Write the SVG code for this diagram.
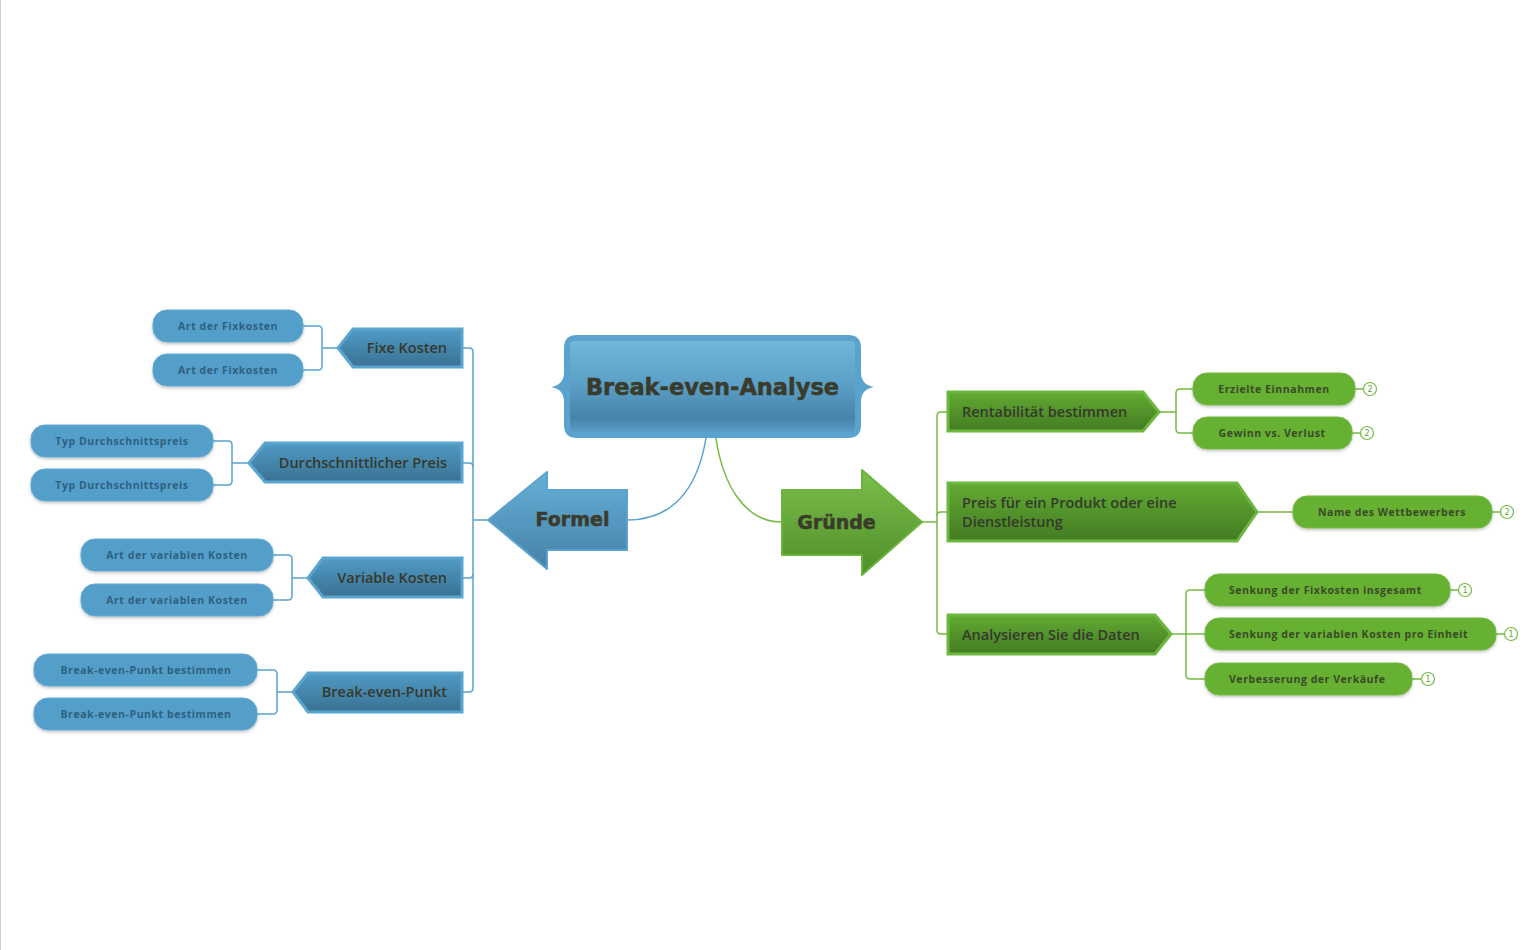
<svg xmlns="http://www.w3.org/2000/svg" width="1536" height="950" viewBox="0 0 1536 950">
<defs>
<linearGradient id="gCentral" x1="0" y1="0" x2="0" y2="1">
<stop offset="0" stop-color="#70b7d8"/><stop offset="0.5" stop-color="#5a9ec5"/><stop offset="0.85" stop-color="#4683aa"/><stop offset="1" stop-color="#5a9dc6"/>
</linearGradient>
<linearGradient id="gBlueArrow" x1="0" y1="0" x2="0" y2="1">
<stop offset="0" stop-color="#66b0d6"/><stop offset="1" stop-color="#4581a9"/>
</linearGradient>
<linearGradient id="gGreenArrow" x1="0" y1="0" x2="0" y2="1">
<stop offset="0" stop-color="#7cbf4c"/><stop offset="1" stop-color="#4e8f28"/>
</linearGradient>
<linearGradient id="gBlueL1" x1="0" y1="0" x2="0" y2="1">
<stop offset="0" stop-color="#509bc5"/><stop offset="1" stop-color="#3a7193"/>
</linearGradient>
<linearGradient id="gGreenL1" x1="0" y1="0" x2="0" y2="1">
<stop offset="0" stop-color="#62ab33"/><stop offset="1" stop-color="#437b22"/>
</linearGradient>
<filter id="shadow" x="-10%" y="-20%" width="120%" height="150%">
<feDropShadow dx="0" dy="1.5" stdDeviation="1.5" flood-color="#000" flood-opacity="0.25"/>
</filter>
<style>
.title{font-family:"DejaVu Sans",sans-serif;font-weight:bold;fill:#3a3b2b;stroke:#3a3b2b;stroke-width:0.5;}
.l1{font-family:"Open Sans","Liberation Sans",sans-serif;font-size:14.5px;font-weight:600;fill:#36382c;}
.leafB{font-family:"Open Sans","Liberation Sans",sans-serif;font-size:10.5px;font-weight:bold;letter-spacing:0.55px;fill:#2f5f80;}
.leafG{font-family:"Open Sans","Liberation Sans",sans-serif;font-size:10.5px;font-weight:bold;letter-spacing:0.55px;fill:#3a4a28;}
.pillB{fill:#539fca;stroke:#62aad3;stroke-width:1;filter:url(#shadow);}
.pillG{fill:#66b033;stroke:#74bb44;stroke-width:1;filter:url(#shadow);}
.shapeB{fill:url(#gBlueL1);stroke:#5aa5d0;stroke-width:3;}
.shapeG{fill:url(#gGreenL1);stroke:#6cb83e;stroke-width:3;}
.cB{fill:none;stroke:#5aa3cf;stroke-width:1.5;}
.cG{fill:none;stroke:#74bb44;stroke-width:1.5;}
.badge{fill:#fff;stroke:#74bb44;stroke-width:1.2;}
.badgeT{font-family:"DejaVu Sans",sans-serif;font-size:8px;fill:#5da82e;}
</style>
</defs>
<rect x="0" y="0" width="1536" height="950" fill="#ffffff"/>
<line x1="0.5" y1="0" x2="0.5" y2="950" stroke="#cfcfcf" stroke-width="1"/>

<g id="connectors">
<path class="cB" d="M706,438 C700,475 682,520 627,520"/>
<path class="cG" d="M716,438 C722,480 742,522 782,522"/>
<path class="cB" d="M463,348 H469 Q473,348 473,352 V688 Q473,692 469,692 H463"/>
<path class="cB" d="M463,463 H469 Q473,463 473,467"/>
<path class="cB" d="M463,578 H469 Q473,578 473,574"/>
<path class="cB" d="M473,520 H488"/>
<path class="cB" d="M303,326 H318 Q322,326 322,330 V366 Q322,370 318,370 H303 M322,348 H337"/>
<path class="cB" d="M213,441 H228 Q232,441 232,445 V481 Q232,485 228,485 H213 M232,463 H248"/>
<path class="cB" d="M273,555 H288 Q292,555 292,559 V596 Q292,600 288,600 H273 M292,578 H307"/>
<path class="cB" d="M257,670 H273 Q277,670 277,674 V710 Q277,714 273,714 H257 M277,692 H292"/>
<path class="cG" d="M948,412 H941 Q937,412 937,416 V630 Q937,634 941,634 H948"/>
<path class="cG" d="M948,512 H941 Q937,512 937,516"/>
<path class="cG" d="M922,522 H937"/>
<path class="cG" d="M1160,412 H1176 M1193,389 H1180 Q1176,389 1176,393 V429 Q1176,433 1180,433 H1193"/>
<path class="cG" d="M1355,389 H1364 M1352,433 H1361"/>
<path class="cG" d="M1258,512 H1293 M1492,512 H1501"/>
<path class="cG" d="M1172,634 H1205 M1205,590 H1190 Q1186,590 1186,594 V675 Q1186,679 1190,679 H1205"/>
<path class="cG" d="M1450,590 H1459 M1496,634 H1505 M1412,679 H1421"/>
</g>

<g id="central">
<path d="M577,335 H848 Q861,335 861,348 V372 Q861,385 874,387 Q861,389 861,402 V425 Q861,438 848,438 H577 Q564,438 564,425 V402 Q564,389 551,387 Q564,385 564,372 V348 Q564,335 577,335 Z" fill="#5aa3cf"/>
<rect x="570" y="341" width="285" height="91" rx="4" fill="url(#gCentral)"/>
<text class="title" x="712.5" y="395" font-size="22.5" text-anchor="middle">Break-even-Analyse</text>
</g>

<g id="formel">
<path d="M488,520 L547,472 V490 H627 V550 H547 V569 Z" fill="url(#gBlueArrow)" stroke="#5aa3cf" stroke-width="2" stroke-linejoin="round"/>
<text class="title" x="572.5" y="526" font-size="19" text-anchor="middle">Formel</text>
</g>

<g id="gruende">
<path d="M782,490 H862 V470 L922,522 L862,575 V555 H782 Z" fill="url(#gGreenArrow)" stroke="#6ab43c" stroke-width="2" stroke-linejoin="round"/>
<text class="title" x="836.5" y="529" font-size="19" text-anchor="middle">Gründe</text>
</g>

<g id="fixe-kosten">
<path class="shapeB" d="M353,329 H462 V367 H353 L338,348 Z"/>
<text class="l1" x="447" y="353" text-anchor="end">Fixe Kosten</text>
</g>
<g id="durchschnittlicher-preis">
<path class="shapeB" d="M265,443 H462 V482 H265 L249,463 Z"/>
<text class="l1" x="447" y="468" text-anchor="end">Durchschnittlicher Preis</text>
</g>
<g id="variable-kosten">
<path class="shapeB" d="M323,558 H462 V597 H323 L308,578 Z"/>
<text class="l1" x="447" y="583" text-anchor="end">Variable Kosten</text>
</g>
<g id="break-even-punkt">
<path class="shapeB" d="M308,673 H462 V712 H308 L293,692 Z"/>
<text class="l1" x="447" y="697" text-anchor="end">Break-even-Punkt</text>
</g>

<g id="leaf-fix-1"><rect class="pillB" x="153" y="310" width="150" height="32" rx="14"/><text class="leafB" x="228" y="330" text-anchor="middle">Art der Fixkosten</text></g>
<g id="leaf-fix-2"><rect class="pillB" x="153" y="354" width="150" height="32" rx="14"/><text class="leafB" x="228" y="374" text-anchor="middle">Art der Fixkosten</text></g>
<g id="leaf-preis-1"><rect class="pillB" x="31" y="425" width="182" height="32" rx="14"/><text class="leafB" x="122" y="445" text-anchor="middle">Typ Durchschnittspreis</text></g>
<g id="leaf-preis-2"><rect class="pillB" x="31" y="469" width="182" height="32" rx="14"/><text class="leafB" x="122" y="489" text-anchor="middle">Typ Durchschnittspreis</text></g>
<g id="leaf-var-1"><rect class="pillB" x="81" y="539" width="192" height="32" rx="14"/><text class="leafB" x="177" y="559" text-anchor="middle">Art der variablen Kosten</text></g>
<g id="leaf-var-2"><rect class="pillB" x="81" y="584" width="192" height="32" rx="14"/><text class="leafB" x="177" y="604" text-anchor="middle">Art der variablen Kosten</text></g>
<g id="leaf-bep-1"><rect class="pillB" x="34" y="654" width="223" height="32" rx="14"/><text class="leafB" x="146" y="674" text-anchor="middle">Break-even-Punkt bestimmen</text></g>
<g id="leaf-bep-2"><rect class="pillB" x="34" y="698" width="223" height="32" rx="14"/><text class="leafB" x="146" y="718" text-anchor="middle">Break-even-Punkt bestimmen</text></g>

<g id="rentabilitaet">
<path class="shapeG" d="M948,392 H1143 L1159,412 L1143,431 H948 Z"/>
<text class="l1" x="962" y="417">Rentabilität bestimmen</text>
</g>
<g id="preis-produkt">
<path class="shapeG" d="M948,483 H1237 L1257,512 L1237,541 H948 Z"/>
<text class="l1" x="962" y="508">Preis für ein Produkt oder eine</text>
<text class="l1" x="962" y="527">Dienstleistung</text>
</g>
<g id="analysieren">
<path class="shapeG" d="M948,615 H1155 L1171,634 L1155,654 H948 Z"/>
<text class="l1" x="962" y="640">Analysieren Sie die Daten</text>
</g>

<g id="leaf-einnahmen"><rect class="pillG" x="1193" y="373" width="162" height="32" rx="14"/><text class="leafG" x="1274" y="393" text-anchor="middle">Erzielte Einnahmen</text>
<circle class="badge" cx="1370" cy="389" r="6.5"/><text class="badgeT" x="1370" y="392" text-anchor="middle">2</text></g>
<g id="leaf-gewinn"><rect class="pillG" x="1193" y="417" width="159" height="32" rx="14"/><text class="leafG" x="1272" y="437" text-anchor="middle">Gewinn vs. Verlust</text>
<circle class="badge" cx="1367" cy="433" r="6.5"/><text class="badgeT" x="1367" y="436" text-anchor="middle">2</text></g>
<g id="leaf-wettbewerber"><rect class="pillG" x="1293" y="496" width="199" height="32" rx="14"/><text class="leafG" x="1392" y="516" text-anchor="middle">Name des Wettbewerbers</text>
<circle class="badge" cx="1507" cy="512" r="6.5"/><text class="badgeT" x="1507" y="515" text-anchor="middle">2</text></g>
<g id="leaf-fixkosten-senkung"><rect class="pillG" x="1205" y="574" width="245" height="32" rx="14"/><text class="leafG" x="1229" y="594">Senkung der Fixkosten insgesamt</text>
<circle class="badge" cx="1465" cy="590" r="6.5"/><text class="badgeT" x="1465" y="593" text-anchor="middle">1</text></g>
<g id="leaf-variable-senkung"><rect class="pillG" x="1205" y="618" width="291" height="32" rx="14"/><text class="leafG" x="1229" y="638">Senkung der variablen Kosten pro Einheit</text>
<circle class="badge" cx="1511" cy="634" r="6.5"/><text class="badgeT" x="1511" y="637" text-anchor="middle">1</text></g>
<g id="leaf-verkaeufe"><rect class="pillG" x="1205" y="663" width="207" height="32" rx="14"/><text class="leafG" x="1229" y="683">Verbesserung der Verkäufe</text>
<circle class="badge" cx="1428" cy="679" r="6.5"/><text class="badgeT" x="1428" y="682" text-anchor="middle">1</text></g>
</svg>
